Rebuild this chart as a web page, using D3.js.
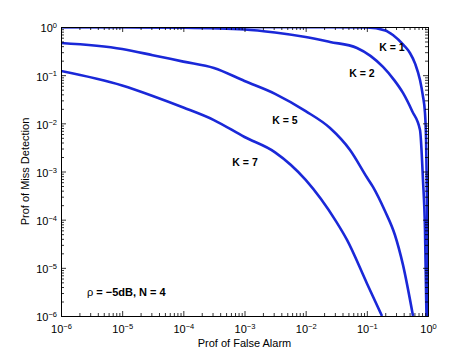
<!DOCTYPE html>
<html><head><meta charset="utf-8">
<script src="https://cdn.jsdelivr.net/npm/d3@7"></script>
<style>body{margin:0;background:#fff}svg{display:block}</style>
</head><body>
<svg id="c" width="474" height="355"></svg>
<script>
// ---- data ----
const pfK1 = [1e-6, 1e-4, 1e-2, 0.1, 0.2, 0.267, 0.4, 0.507, 0.62, 0.74, 0.82, 0.893, 0.93, 0.964, 0.985, 1];
const pmK1 = [0.999, 0.998, 0.99, 0.975, 0.85, 0.682, 0.42, 0.289, 0.17, 0.079, 0.039, 0.0164, 0.0045, 2.6e-4, 1e-5, 1e-8];

const pfK2 = [1e-6, 1e-5, 1e-4, 1e-3, 3.16e-3, 1e-2, 0.025, 0.069, 0.184, 0.28, 0.39, 0.55, 0.74, 0.828, 0.893, 0.944];
const pmK2 = [0.99, 0.985, 0.965, 0.89, 0.77, 0.62, 0.49, 0.367, 0.148, 0.079, 0.0427, 0.018, 7.3e-3, 6.7e-4, 6.1e-5, 1e-6];

const pfK5 = [1e-6, 1e-5, 3.16e-5, 1e-4, 3.16e-4, 1e-3, 3.16e-3, 1e-2, 0.025, 0.0531, 0.1, 0.126, 0.198, 0.288, 0.39, 0.569];
const pmK5 = [0.465, 0.349, 0.26, 0.191, 0.141, 0.0757, 0.041, 0.0179, 8.0e-3, 2.8e-3, 7.6e-4, 4.8e-4, 1.51e-4, 4.8e-5, 1.15e-5, 1e-6];

const pfK7 = [1e-6, 1e-5, 3.16e-5, 1e-4, 3.16e-4, 1e-3, 3.16e-3, 1e-2, 0.0316, 0.0474, 0.1, 0.177];
const pmK7 = [0.122, 0.061, 0.037, 0.0213, 0.0117, 0.0052, 0.0025, 6.7e-4, 9.1e-5, 3.8e-5, 4.8e-6, 1e-6];

const seriesNames = ["K = 1", "K = 2", "K = 5", "K = 7"];
const labelPf = [0.258, 0.0834, 0.00459, 0.00102];
const labelPm = [0.318, 0.0916, 0.00969, 0.0013];
const tickExps = [-6, -5, -4, -3, -2, -1, 0];
const xLabel = "Prof of False Alarm";
const yLabel = "Prof of Miss Detection";
const noteSym = "ρ";
const noteRest = " = −5dB, N = 4";

// ---- layout ----
const L = 61, R = 428, T = 27, B = 316;
const x = d3.scaleLog().domain([1e-6, 1]).range([L, R]);
const y = d3.scaleLog().domain([1e-6, 1]).range([B, T]);
const svg = d3.select("#c");
const font = "'Liberation Sans', Arial, Helvetica, sans-serif";
const blue = "#1a28d8";

const majors = tickExps.map(e => Math.pow(10, e));
const minors = [];
for (let e = -6; e < 0; e++) for (let m = 2; m <= 9; m++) minors.push(m * Math.pow(10, e));

svg.append("defs").append("clipPath").attr("id", "clip")
  .append("rect").attr("x", L).attr("y", T).attr("width", R - L).attr("height", B - T);

// ---- curves ----
const line = d3.line().x(d => x(d[0])).y(d => y(d[1])).curve(d3.curveMonotoneX);
const data = [[pfK1, pmK1], [pfK2, pmK2], [pfK5, pmK5], [pfK7, pmK7]];
svg.append("g").attr("clip-path", "url(#clip)")
  .selectAll("path").data(data).join("path")
  .attr("d", d => line(d[0].map((v, i) => [v, d[1][i]])))
  .attr("fill", "none").attr("stroke", blue).attr("stroke-width", 2.6)
  .attr("stroke-linejoin", "round");

// ---- axes (ticks inward, box) ----
function styleAxis(g) {
  g.select(".domain").attr("stroke", "#000").attr("stroke-width", 1);
  g.selectAll(".tick line").attr("stroke", "#000").attr("stroke-width", 0.8);
}
function supLabel(sel, anchor) {
  sel.selectAll(".tick text").each(function (d) {
    const t = d3.select(this);
    t.text(null).attr("font-family", font).attr("font-size", 11).attr("fill", "#000")
      .attr("text-anchor", anchor);
    const e = Math.round(Math.log10(d));
    t.append("tspan").text("10");
    t.append("tspan").text(e < 0 ? "−" + (-e) : String(e))
      .attr("font-size", 7.5).attr("dy", "-0.55em");
  });
}
const gB = svg.append("g").attr("transform", `translate(0,${B})`)
  .call(d3.axisBottom(x).tickValues(majors).tickSize(-5).tickPadding(9).tickFormat(d => d));
supLabel(gB, "middle"); styleAxis(gB);
svg.append("g").attr("transform", `translate(0,${B})`)
  .call(d3.axisBottom(x).tickValues(minors).tickSize(-3).tickFormat("")).call(styleAxis)
  .select(".domain").remove();

svg.append("g").attr("transform", `translate(0,${T})`)
  .call(d3.axisTop(x).tickValues(majors).tickSize(-5).tickFormat("")).call(styleAxis);
svg.append("g").attr("transform", `translate(0,${T})`)
  .call(d3.axisTop(x).tickValues(minors).tickSize(-3).tickFormat("")).call(styleAxis)
  .select(".domain").remove();

const gL = svg.append("g").attr("transform", `translate(${L},0)`)
  .call(d3.axisLeft(y).tickValues(majors).tickSize(-5).tickPadding(4).tickFormat(d => d));
supLabel(gL, "end"); styleAxis(gL);
gL.selectAll(".tick text").attr("dy", "0.45em");
svg.append("g").attr("transform", `translate(${L},0)`)
  .call(d3.axisLeft(y).tickValues(minors).tickSize(-3).tickFormat("")).call(styleAxis)
  .select(".domain").remove();

svg.append("g").attr("transform", `translate(${R},0)`)
  .call(d3.axisRight(y).tickValues(majors).tickSize(-5).tickFormat("")).call(styleAxis);
svg.append("g").attr("transform", `translate(${R},0)`)
  .call(d3.axisRight(y).tickValues(minors).tickSize(-3).tickFormat("")).call(styleAxis)
  .select(".domain").remove();

// ---- axis titles ----
svg.append("text").attr("x", (L + R) / 2).attr("y", 347).attr("text-anchor", "middle")
  .attr("font-family", font).attr("font-size", 11).text(xLabel);
svg.append("text").attr("transform", `translate(29,${(T + B) / 2}) rotate(-90)`)
  .attr("text-anchor", "middle").attr("font-family", font).attr("font-size", 11).text(yLabel);

// ---- annotations (positioned in data space) ----
svg.selectAll("text.klab").data(seriesNames).join("text").attr("class", "klab")
  .attr("x", (d, i) => x(labelPf[i])).attr("y", (d, i) => y(labelPm[i]))
  .attr("text-anchor", "middle").attr("font-family", font).attr("font-size", 10.5)
  .attr("font-weight", "bold").text(d => d);
const nt = svg.append("text").attr("x", 87).attr("y", 296).attr("font-family", font)
  .attr("font-size", 11);
nt.append("tspan").text(noteSym);
nt.append("tspan").attr("font-weight", "bold").text(noteRest);
</script>
</body></html>
